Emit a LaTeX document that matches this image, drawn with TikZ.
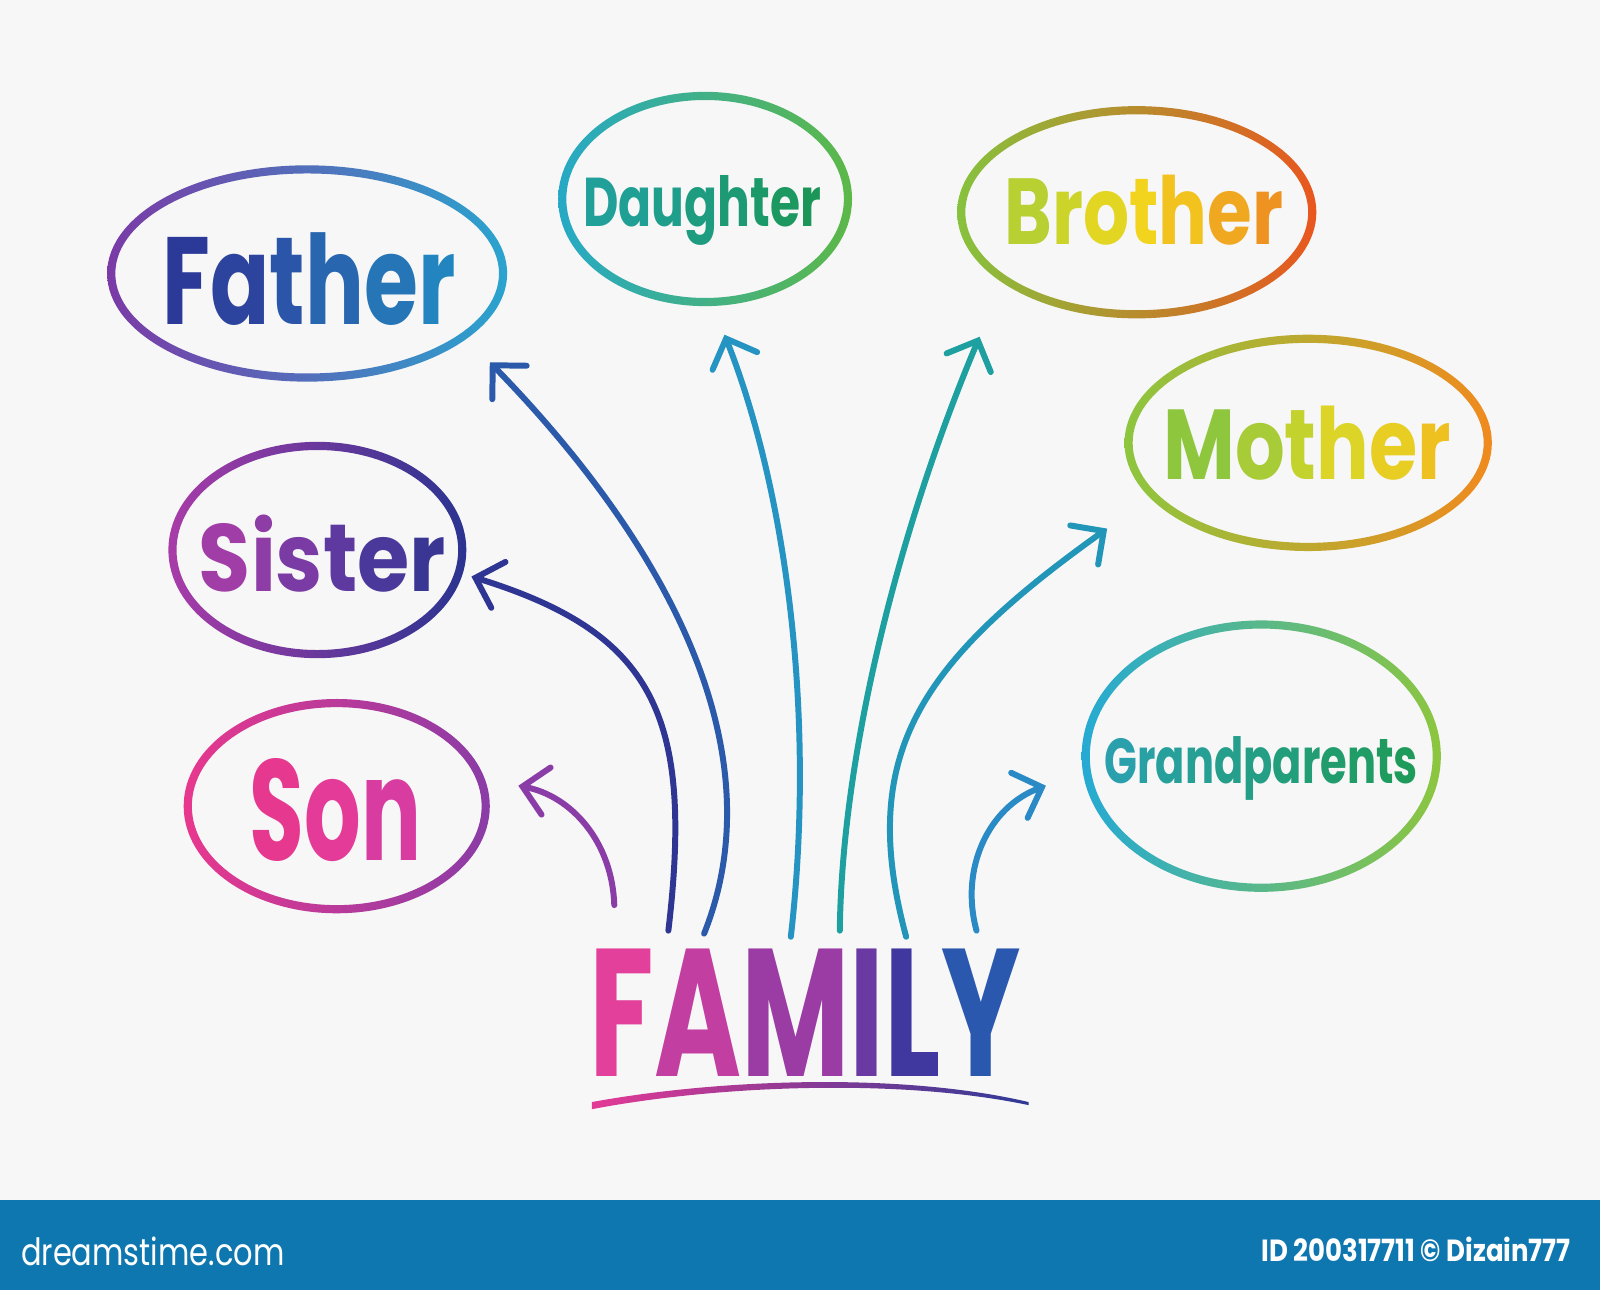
\documentclass[tikz,border=0pt]{standalone}
\usepackage{fontspec}
\setmainfont{Poppins}
\usepackage{graphicx}
\usetikzlibrary{arrows.meta}

\newdimen\pxu \pxu=0.010204cm
\newcommand\word[3]{\resizebox{#1\pxu}{#2\pxu}{\bfseries #3}}
\newcommand\cl[2]{\textcolor[HTML]{#1}{#2}}
\newcommand\ovalring[6]{\shade[left color=#4, middle color=#5, right color=#6, even odd rule]
  (#1) ellipse [x radius=#2, y radius=#3] (#1) ellipse [x radius=#2-8, y radius=#3-8];}

\definecolor{bgray}{HTML}{F7F7F7}
\definecolor{barblue}{HTML}{0F77B0}
\definecolor{faL}{HTML}{7B3AA6}\definecolor{faM}{HTML}{2D3C9C}\definecolor{faR}{HTML}{2AA4CF}
\definecolor{daL}{HTML}{26A9C6}\definecolor{daM}{HTML}{1E9E6E}\definecolor{daR}{HTML}{5DB847}
\definecolor{brL}{HTML}{86C23D}\definecolor{brM}{HTML}{F5D51C}\definecolor{brR}{HTML}{E9561E}
\definecolor{moL}{HTML}{8DC63F}\definecolor{moM}{HTML}{F5D81C}\definecolor{moR}{HTML}{F08A1E}
\definecolor{siL}{HTML}{A83CA8}\definecolor{siM}{HTML}{6A3AA2}\definecolor{siR}{HTML}{2A3490}
\definecolor{soL}{HTML}{E8388E}\definecolor{soM}{HTML}{C03A9C}\definecolor{soR}{HTML}{8A3CA6}
\definecolor{grL}{HTML}{25AAD4}\definecolor{grM}{HTML}{1E9E5C}\definecolor{grR}{HTML}{8DC63F}
\definecolor{aso}{HTML}{8A3DA6}
\definecolor{asi}{HTML}{2E3592}
\definecolor{afa}{HTML}{2C5AAA}
\definecolor{ada}{HTML}{2594C2}
\definecolor{abr}{HTML}{1FA0A0}
\definecolor{amo}{HTML}{2196B8}
\definecolor{agr}{HTML}{2A8AC6}
\definecolor{ulL}{HTML}{E33A95}
\definecolor{ulR}{HTML}{2E3A96}

\begin{document}
\begin{tikzpicture}[
x=0.010204cm, y=-0.010204cm,
lbl/.style={inner sep=0pt, anchor=base},
arr/.style={line width=1.7pt, line cap=round, -{Straight Barb[length=2.4mm,width=4.8mm,line cap=round]}},
]
\useasboundingbox (0,0) rectangle (1568,1264);
\fill[bgray] (0,0) rectangle (1568,1176);

% Words:
\node[lbl] (father) at (303,318) {\word{287}{90}{\cl{2B3A98}{F}\cl{2D449E}{a}\cl{2A55A8}{t}\cl{2866B0}{h}\cl{2575B7}{e}\cl{2385BF}{r}}};
\node[lbl] (daughter) at (688,222) {\word{233}{50}{\cl{21A09A}{D}\cl{20A094}{a}\cl{1F9E8C}{u}\cl{1E9C80}{g}\cl{1D9A74}{h}\cl{1C9968}{t}\cl{1C9860}{e}\cl{1C9658}{r}}};
\node[lbl] (brother) at (1121,240) {\word{273}{68}{\cl{B8D032}{B}\cl{CCD42A}{r}\cl{E2D622}{o}\cl{F2D41E}{t}\cl{F2C21E}{h}\cl{F0A820}{e}\cl{EE9322}{r}}};
\node[lbl] (mother) at (1281,470) {\word{282}{72}{\cl{8EC63E}{M}\cl{A8CC38}{o}\cl{C4D22E}{t}\cl{DCD426}{h}\cl{E8CE22}{e}\cl{EEC020}{r}}};
\node[lbl] (sister) at (316,580) {\word{242}{75}{\cl{A03DA6}{S}\cl{8E3CA6}{i}\cl{7A3BA4}{s}\cl{5E3AA0}{t}\cl{4A389A}{e}\cl{3A3694}{r}}};
\node[lbl] (son) at (329,843) {\word{168}{100}{\cl{E6388F}{S}\cl{E43A98}{o}\cl{D83CA0}{n}}};
\node[lbl] (grand) at (1236,768) {\word{307}{46}{\cl{2AA0AC}{G}\cl{29A0A4}{r}\cl{27A09C}{a}\cl{26A094}{n}\cl{259F8C}{d}\cl{249E84}{p}\cl{239E7C}{a}\cl{229D74}{r}\cl{219C6C}{e}\cl{209C66}{n}\cl{1F9B60}{t}\cl{1E9A5A}{s}}};
\node[lbl] (family) at (789,1055) {\word{422}{125}{\cl{E2409A}{F}\cl{C23EA0}{A}\cl{9A3CA4}{M}\cl{6A3AA2}{I}\cl{40389E}{L}\cl{2A58AE}{Y}}};

% Rings:
\coordinate (fa-o) at (301,268);
\coordinate (da-o) at (691,195);
\coordinate (br-o) at (1114,208);
\coordinate (mo-o) at (1282,434);
\coordinate (si-o) at (311,539);
\coordinate (so-o) at (330,790);
\coordinate (gr-o) at (1236,741);
\ovalring{fa-o}{196}{106}{faL}{faM}{faR}
\ovalring{da-o}{144}{105}{daL}{daM}{daR}
\ovalring{br-o}{176}{104}{brL}{brM}{brR}
\ovalring{mo-o}{180}{106}{moL}{moM}{moR}
\ovalring{si-o}{146}{106}{siL}{siM}{siR}
\ovalring{so-o}{150}{105}{soL}{soM}{soR}
\ovalring{gr-o}{176}{133}{grL}{grM}{grR}

% Arrow ends:
\coordinate (fam-so) at (602,887);
\coordinate (fam-si) at (655,912);
\coordinate (fam-fa) at (690,915);
\coordinate (fam-da) at (775,918);
\coordinate (fam-br) at (823,912);
\coordinate (fam-mo) at (888,918);
\coordinate (fam-gr) at (957,912);
\coordinate (so-in) at (508,770);
\coordinate (si-in) at (462,565);
\coordinate (fa-in) at (480,355);
\coordinate (da-in) at (710,328);
\coordinate (br-in) at (960,330);
\coordinate (mo-in) at (1085,518);
\coordinate (gr-in) at (1025,770);

\draw[arr, aso] (fam-so) .. controls (600,825) and (560,780) .. (so-in);
\draw[arr, asi] (fam-si) .. controls (680,700) and (640,620) .. (si-in);
\draw[arr, afa] (fam-fa) .. controls (760,740) and (660,540) .. (fa-in);
\draw[arr, ada] (fam-da) .. controls (800,700) and (770,480) .. (da-in);
\draw[arr, abr] (fam-br) .. controls (825,740) and (880,520) .. (br-in);
\draw[arr, amo] (fam-mo) .. controls (840,740) and (900,650) .. (mo-in);
\draw[arr, agr] (fam-gr) .. controls (940,850) and (970,790) .. (gr-in);

% Underline:
\shade[left color=ulL, right color=ulR]
  (580,1080) .. controls (700,1058) and (880,1050) .. (1008,1080)
  -- (1008,1083) .. controls (880,1056) and (700,1064) .. (580,1087) -- cycle;

% Bottom bar:
\fill[barblue] (0,1176) rectangle (1568,1264);
\node[anchor=west, inner sep=0pt, text=white] (site) at (20,1226) {\resizebox{258\pxu}{28\pxu}{dreamstime.com}};
\node[anchor=east, inner sep=0pt, text=white] (credit) at (1540,1224) {\resizebox{303\pxu}{24\pxu}{\bfseries ID 200317711 © Dizain777}};
\end{tikzpicture}
\end{document}
